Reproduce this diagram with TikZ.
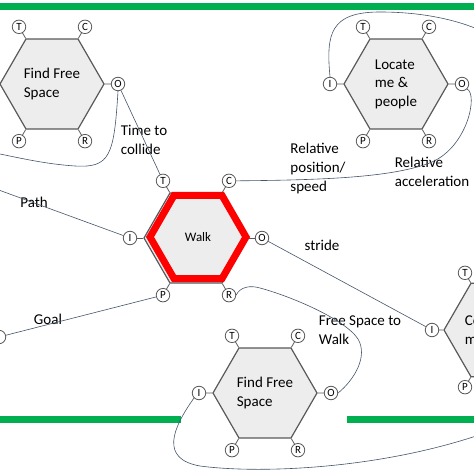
\documentclass[tikz,border=0pt]{standalone}
\usepackage{fontspec}
\setmainfont{Carlito}
\usetikzlibrary{shapes.geometric, positioning, calc}
\definecolor{hexgray}{RGB}{237,237,237}
\definecolor{hexedge}{RGB}{89,89,89}
\definecolor{wirecol}{RGB}{68,84,106}
\definecolor{barcol}{RGB}{0,176,80}
\tikzstyle{hexa} = [regular polygon, regular polygon sides=6, minimum size=104pt, inner sep=0pt, draw=hexedge, fill=hexgray, line width=1.2pt, align=left, font=\fontsize{15}{18.5}\selectfont]
\tikzstyle{port} = [circle, draw=hexedge, fill=white, line width=0.8pt, minimum size=13.5pt, inner sep=0pt, font=\fontsize{11}{11}\selectfont]
\tikzstyle{wire} = [draw=wirecol, line width=0.6pt]
\tikzstyle{lbl} = [align=left, font=\fontsize{15}{19}\selectfont, inner sep=0pt]
\tikzstyle{bar} = [draw=barcol, line width=7pt]

\begin{document}
\begin{tikzpicture}[x=1pt, y=1pt, node distance=154pt]
	\useasboundingbox (0,0) rectangle (474,474);
	\clip (0,0) rectangle (474,474);

	% green bars
	\draw [bar, line width=6.5pt] (0,467.5) -- (474,467.5);
	\draw [bar] (0,54.5) -- (181,54.5);
	\draw [bar] (347,54.5) -- (474,54.5);

	% hexagons
	\node (walk) [hexa] at (196,236) {};
	\node (walkred) [hexa, draw=red, line width=7pt, minimum size=96pt, font=\fontsize{13}{16}\selectfont] at (198,237) {Walk};
	\node (ffsa) [hexa, above of=walk, xshift=-144pt] {Find Free\\Space};
	\node (locate) [hexa, right of=ffsa, node distance=344pt] {Locate\\me \&\\people};
	\node (ffsb) [hexa, below of=walk, node distance=155pt, xshift=69pt] {Find Free\\Space};
	\node (ctrl) [hexa, right of=walk, node distance=302pt, yshift=-92pt] {Control\\movement};

	% ports round each hexagon
	\foreach \h in {ffsa,locate,walk,ffsb,ctrl}
		\foreach \a/\p in {120/T,60/C,0/O,300/R,240/P,180/I}
		{
			\node (\h\p) [port] at ($(\h)+(\a:66pt)$) {\p};
			\draw [hexedge, line width=0.8pt] (\h\p) -- (\h);
		}

	% labels
	\node (lbltime) [lbl] at (144,334) {Time to\\collide};
	\node (lblpath) [lbl] at (34,272) {Path};
	\node (lblgoal) [lbl] at (48,155) {Goal};
	\node (lblstride) [lbl] at (322,229) {stride};
	\node (lblpos) [lbl] at (318,305) {Relative\\position/\\speed};
	\node (lblacc) [lbl] at (432,302) {Relative\\acceleration};
	\node (lblfree) [lbl] at (360,144) {Free Space to\\Walk};

	% ends outside the frame
	\coordinate (pathsrc) at (-4,285);
	\node (goalsrc) [port] at (-1,137) {};
	\coordinate (leftend) at (-5,321);
	\coordinate (topend) at (482,443);
	\coordinate (botend) at (482,40);

	% Draw edges
	\path [wire] (pathsrc) -- (walkI);
	\path [wire] (goalsrc) -- (walkP);
	\path [wire] (ffsaO) -- (walkT);
	\path [wire] (walkO) -- (ctrlI);
	\path [wire] (ffsaO.south) .. controls (114,318) and (110,306) .. (75,308) .. controls (45,310) and (20,316) .. (leftend);
	\path [wire] (locateI.north) .. controls (326,440) and (330,462) .. (380,462) .. controls (420,462) and (455,455) .. (topend);
	\path [wire] (walkC.east) .. controls (330,294) and (395,297) .. (432,312) .. controls (468,328) and (478,380) .. (locateO.-45);
	\path [wire] (ffsbO.east) .. controls (355,95) and (368,118) .. (358,135) .. controls (345,155) and (290,178) .. (260,186) .. controls (250,189) and (240,187) .. (walkR.east);
	\path [wire] (ffsbI.south west) .. controls (172,45) and (160,15) .. (200,8) .. controls (260,0) and (380,5) .. (botend);
\end{tikzpicture}
\end{document}
